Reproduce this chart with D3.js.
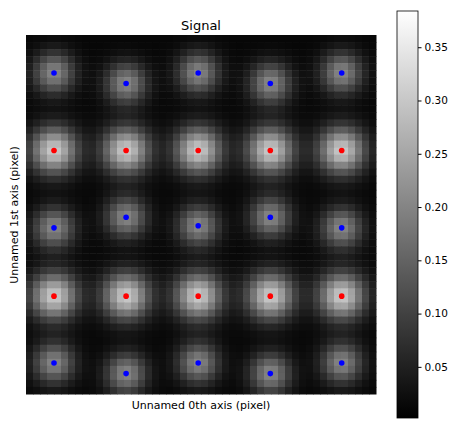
<!DOCTYPE html>
<html><head><meta charset="utf-8">
<script src="https://cdn.jsdelivr.net/npm/d3@7"></script>
<style>body{margin:0;background:#fff;font-family:"DejaVu Sans",sans-serif}</style>
</head><body><div id="chart"></div>
<script>
// image size in pixels
const nCols = 50, nRows = 51;
// spots (pixel coordinates)
const spotX = [4, 14.3, 24.6, 34.9, 45.1];
const redRows = [16.4, 37.1];
const blueRows = [[5.4, 6.9, 5.4, 6.9, 5.4], [27.4, 25.9, 27.1, 25.9, 27.4], [46.6, 48.1, 46.6, 48.1, 46.6]];
const redAmp = 0.29, blueAmp = 0.19, redSigma = 2.3, blueSigma = 2.0, background = 0.012;
const cbTicks = [0.05, 0.10, 0.15, 0.20, 0.25, 0.30, 0.35];

const spots = [];
redRows.forEach(r => spotX.forEach(x => spots.push({x, y: r, a: redAmp, s: redSigma, c: "red"})));
blueRows.forEach(row => row.forEach((y, i) => spots.push({x: spotX[i], y, a: blueAmp, s: blueSigma, c: "blue"})));

const cells = [];
for (let j = 0; j < nRows; j++) for (let i = 0; i < nCols; i++) {
  let v = background;
  spots.forEach(p => {
    const dx = i + 0.5 - p.x, dy = j + 0.5 - p.y;
    v += p.a * Math.exp(-(dx * dx + dy * dy) / (2 * p.s * p.s));
  });
  cells.push({i, j, v});
}

const svg = d3.select("#chart").append("svg").attr("width", 474).attr("height", 430);
const x = d3.scaleLinear().domain([0, nCols]).range([26, 376]);
const y = d3.scaleLinear().domain([0, nRows]).range([35, 394]);
const color = d3.scaleLinear().domain([0.002, 0.384]).range(["#000", "#fff"]).clamp(true);

svg.append("g").selectAll("rect").data(cells).enter().append("rect")
  .attr("x", d => x(d.i)).attr("y", d => y(d.j))
  .attr("width", x(1) - x(0) + 0.5).attr("height", y(1) - y(0) + 0.5)
  .attr("fill", d => color(d.v));

svg.append("g").selectAll("circle").data(spots).enter().append("circle")
  .attr("cx", d => x(d.x)).attr("cy", d => y(d.y)).attr("r", 2.8).attr("fill", d => d.c);

svg.append("text").attr("x", 201).attr("y", 30).attr("text-anchor", "middle")
  .style("font-size", "13px").text("Signal");
svg.append("text").attr("x", 201).attr("y", 409).attr("text-anchor", "middle")
  .style("font-size", "11px").text("Unnamed 0th axis (pixel)");
svg.append("text").attr("transform", "translate(18,215) rotate(-90)").attr("text-anchor", "middle")
  .style("font-size", "11px").text("Unnamed 1st axis (pixel)");

// colorbar
const cb = d3.scaleLinear().domain([0.002, 0.384]).range([418, 11]);
const defs = svg.append("defs");
const grad = defs.append("linearGradient").attr("id", "cbg").attr("x1", 0).attr("y1", 1).attr("x2", 0).attr("y2", 0);
grad.append("stop").attr("offset", 0).attr("stop-color", "#000");
grad.append("stop").attr("offset", 1).attr("stop-color", "#fff");
svg.append("rect").attr("x", 397).attr("y", 11).attr("width", 21).attr("height", 407)
  .attr("fill", "url(#cbg)").attr("stroke", "#000").attr("stroke-width", 0.8);
svg.append("g").attr("transform", "translate(418,0)")
  .call(d3.axisRight(cb).tickValues(cbTicks).tickFormat(d3.format(".2f")).tickSize(3.5))
  .call(g => g.select(".domain").remove())
  .selectAll("text").style("font-size", "10.5px").style("font-family", "DejaVu Sans");
</script></body></html>
